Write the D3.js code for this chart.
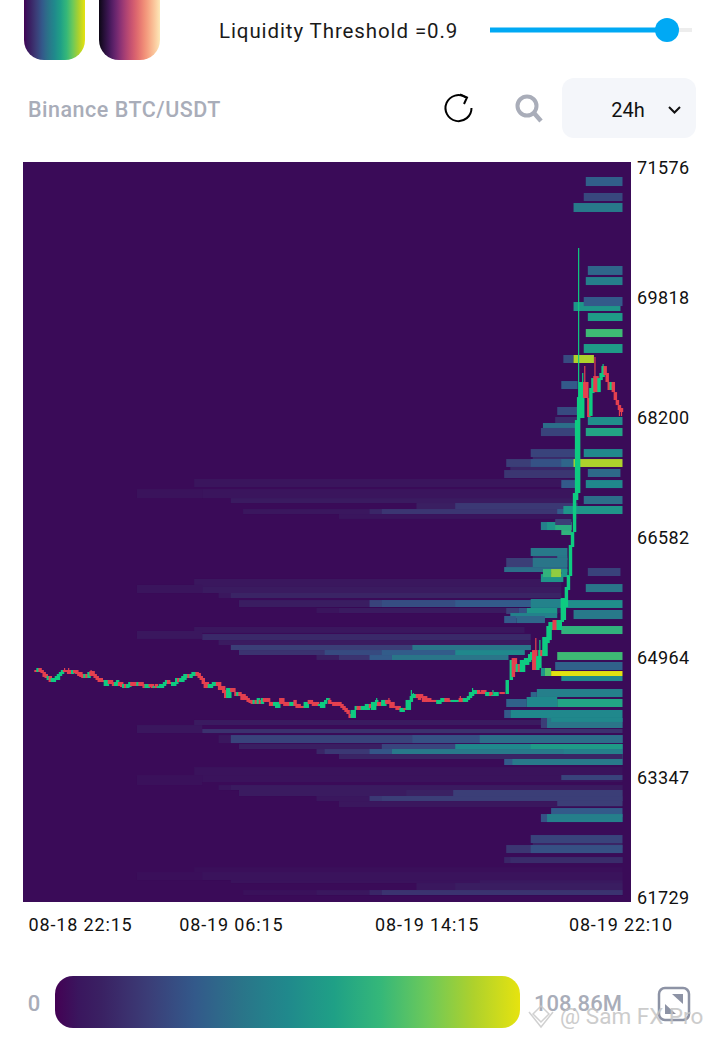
<!DOCTYPE html>
<html>
<head>
<meta charset="utf-8">
<script src="https://cdn.jsdelivr.net/npm/d3@7"></script>
<style>
body { margin: 0; background: #fff; }
svg { display: block; }
text { font-family: Roboto, sans-serif; }
</style>
</head>
<body>
<svg id="chart" width="718" height="1039"></svg>
<script>
// 5 minute candles, 08-18 22:15 to 08-19 22:10
const opens = [
64789,64762,64816,64789,64762,64735,64654,64708,64627,64627,64654,64654,64708,64735,64789,64789,64789,64789,64735,64789,
64789,64762,64762,64735,64681,64735,64681,64775,64775,64735,64708,64681,64681,64654,64573,64573,64654,64654,64627,64573,
64573,64627,64627,64546,64600,64546,64560,64627,64627,64627,64573,64627,64627,64600,64546,64546,64600,64600,64546,64600,
64546,64546,64546,64573,64600,64654,64627,64573,64573,64600,64681,64627,64627,64654,64681,64735,64681,64708,64708,64762,
64748,64708,64681,64627,64627,64546,64546,64573,64573,64627,64627,64573,64573,64519,64411,64411,64546,64546,64492,64438,
64492,64465,64465,64438,64411,64385,64385,64331,64385,64331,64385,64331,64411,64411,64411,64358,64358,64304,64277,64277,
64411,64411,64358,64358,64358,64304,64304,64385,64331,64331,64304,64304,64277,64277,64385,64385,64358,64358,64358,64304,
64277,64277,64331,64385,64385,64358,64358,64358,64358,64358,64331,64304,64277,64250,64196,64142,64142,64250,64304,64304,
64250,64250,64250,64250,64331,64250,64250,64304,64358,64358,64304,64304,64385,64385,64358,64358,64304,64304,64304,64223,
64223,64277,64250,64250,64358,64411,64411,64465,64465,64465,64438,64438,64411,64411,64385,64385,64385,64331,64331,64358,
64358,64411,64411,64385,64358,64358,64358,64358,64411,64411,64358,64358,64385,64411,64438,64465,64465,64519,64492,64519,
64519,64438,64438,64492,64438,64438,64438,64492,64492,64492,64465,64465,64654,64654,64950,64950,64762,64870,64762,64762,
64857,64857,64897,64924,65058,65058,64789,64816,65058,64977,64977,65152,65193,65328,65463,65463,65328,65328,65436,65463,
65638,65867,66056,66447,66649,67081,67175,68186,68186,68672,68672,68456,68213,68523,68752,68752,68536,68698,68739,68887,
68793,68672,68564,68672,68536,68429,68361,68321
]
const closes = [
64762,64816,64762,64748,64695,64681,64708,64627,64681,64681,64708,64735,64762,64789,64762,64762,64735,64735,64789,64748,
64735,64708,64695,64681,64735,64681,64762,64708,64708,64681,64654,64627,64627,64627,64654,64654,64600,64600,64573,64627,
64654,64573,64560,64600,64546,64600,64627,64573,64573,64573,64627,64573,64573,64546,64600,64600,64560,64546,64573,64546,
64573,64600,64600,64627,64654,64600,64600,64627,64627,64681,64627,64681,64708,64735,64735,64681,64735,64762,64762,64708,
64681,64654,64600,64546,64546,64600,64600,64627,64627,64573,64519,64519,64478,64411,64546,64546,64492,64492,64438,64492,
64438,64385,64385,64385,64358,64344,64331,64385,64331,64411,64331,64411,64358,64358,64358,64304,64304,64358,64358,64358,
64331,64331,64304,64304,64304,64358,64358,64304,64277,64277,64277,64277,64358,64358,64331,64331,64304,64304,64304,64331,
64358,64358,64385,64411,64331,64331,64304,64304,64304,64304,64277,64250,64223,64196,64142,64250,64250,64304,64250,64250,
64304,64304,64331,64331,64277,64358,64358,64385,64304,64304,64385,64385,64331,64331,64277,64277,64277,64250,64250,64277,
64277,64250,64385,64385,64438,64465,64465,64411,64385,64411,64358,64358,64358,64358,64358,64358,64358,64385,64385,64411,
64411,64358,64358,64358,64385,64385,64385,64385,64358,64358,64411,64411,64438,64492,64492,64519,64519,64465,64465,64465,
64465,64492,64492,64438,64452,64492,64492,64492,64465,64465,64465,64654,64654,64924,64695,64762,64870,64762,64924,64924,
64950,64950,65004,65031,64789,64789,64977,65058,64977,65234,65234,65382,65436,65436,65328,65328,65463,65463,65759,65759,
65908,66069,66474,66649,67175,68159,68469,68672,68672,68456,68456,68200,68591,68725,68536,68536,68725,68793,68887,68766,
68672,68564,68672,68536,68429,68361,68294,68267
]

// thin wicks that stick out of the bodies
const wickIndex = [14,16,27,144,167,173,184,185,208,214,224,245,247,266,268,269,274,278,286,287]
const wickHigh = [64816,64816,64789,64411,64411,64411,64519,64478,64438,64546,64519,65220,65193,70478,68793,68887,69009,68914,68361,68321]
const wickLow = [64762,64735,64708,64358,64304,64331,64358,64411,64358,64438,64438,64789,64816,67175,68186,68456,68536,68739,68213,68213]

// liquidity levels: [high, low, first candle, last candle, size in M]
const topLadder = [
[71436,71314,270,288,35],[71220,71112,269,288,26],[71085,70964,264,288,46],[70236,70115,271,288,38],
[70087,69979,270,288,49],[69750,69629,264,287,60],[69818,69696,269,288,33],[69602,69494,271,288,63],
[69386,69278,270,288,78],[69184,69063,269,288,63],[69036,68928,259,264,27],[69036,68928,264,274,98],
[68685,68577,258,266,33],[68335,68227,256,266,27],[68200,68092,271,288,57],[68052,67943,270,288,67]
]
const upperBook = [
[68200,68092,255,266,16],[68119,68011,249,266,41],[68052,67943,248,266,24],[67768,67660,243,266,24],
[67660,67593,244,266,16],[67768,67660,269,288,54],[67633,67526,231,266,22],[67633,67526,243,266,30],
[67633,67526,258,266,38],[67633,67526,264,288,98],[67526,67472,233,266,13],[67485,67377,230,266,19],
[67499,67391,271,287,39],[67350,67242,258,266,33],[67350,67242,270,288,54],[67135,67027,269,288,41]
]
const upperTail = [
[67364,67255,78,266,5],[67229,67107,50,82,4],[67229,67107,82,266,5],[67107,67040,96,266,8],
[67040,66959,187,266,10],[67040,66959,206,266,20],[66959,66892,102,266,6],[66959,66892,164,266,13],
[66959,66892,170,266,19],[66892,66825,149,266,5],[66959,66892,256,266,33],[67000,66892,259,288,60],
[66784,66676,248,263,49],[66784,66676,251,263,60],[66784,66676,255,263,71],[66825,66744,255,263,22],
[66676,66609,258,263,74]
]
const middleTail = [
[66016,65908,78,258,6],[65935,65827,50,82,5],[65908,65827,82,258,8],[65827,65759,90,258,6],
[65827,65759,96,258,12],[65732,65638,100,258,9],[65732,65638,164,258,24],[65732,65638,170,258,28],
[65732,65638,206,258,33],[65746,65625,243,258,51],[65625,65557,138,258,5],[65625,65557,149,258,8],
[65625,65544,231,237,22],[65625,65544,237,241,30],[65625,65544,241,256,60],[65557,65490,233,256,51],
[65517,65422,230,236,33],[65517,65422,236,250,38]
]
const middleBook = [
[66434,66326,243,261,46],[66326,66272,244,261,16],[66326,66272,256,261,44],[66299,66177,231,261,22],
[66299,66177,244,261,44],[66177,66110,230,261,41],[66082,65975,248,259,60],[66150,66042,249,253,74],
[66150,66042,253,258,93],[66150,66042,258,261,60],[66164,66056,271,287,24],[65948,65840,270,288,44],
[65732,65625,260,288,57],[65598,65476,264,288,46],[65382,65274,258,288,74],[65031,64924,256,288,78],
[64897,64789,255,288,36],[64816,64708,248,250,60],[64816,64708,250,253,82],[64775,64708,253,288,108],
[64708,64640,258,288,54]
]
const lowerTail = [
[65369,65288,78,240,6],[65315,65207,50,82,6],[65274,65193,82,243,14],[65193,65126,90,243,8],
[65126,65058,96,243,22],[65126,65058,185,243,44],[65126,65058,218,243,44],[65058,64991,100,240,18],
[65058,64991,142,240,27],[65058,64991,170,240,34],[65058,64991,206,240,54],[64991,64924,138,232,10],
[64991,64924,149,232,18],[64991,64924,164,232,33],[64991,64924,175,232,44]
]
const lowerBook = [
[64533,64425,246,288,49],[64492,64425,243,246,38],[64398,64290,231,241,36],[64425,64290,241,256,54],
[64398,64290,256,288,67],[64115,64047,78,288,8],[64142,64007,248,288,22],[64142,64007,251,288,44],
[64250,64142,230,233,33],[64250,64142,233,288,54],[64142,64088,253,288,54],[64047,63939,50,82,6],
[63993,63939,82,288,17],[63912,63804,90,288,6],[63912,63804,96,288,24],[63912,63804,185,288,29],
[63912,63804,218,288,41],[63791,63723,100,288,10],[63791,63723,170,288,25],[63791,63723,206,288,54],
[63791,63723,243,288,63],[63723,63656,138,288,13],[63723,63656,142,288,20],[63723,63656,164,288,31],
[63723,63656,175,288,46],[63723,63589,259,288,49],[63656,63589,149,288,12],[63589,63508,230,288,33],
[63589,63508,234,288,46]
]
const bottomBook = [
[63481,63373,78,288,4],[63373,63238,50,82,3],[63373,63278,82,288,4],[63373,63305,258,288,24],
[63238,63171,90,288,5],[63238,63171,96,288,8],[63171,63090,100,288,8],[63171,63090,182,288,11],
[63171,63090,205,288,22],[63090,63022,138,288,6],[63090,63022,164,288,20],[63090,63022,170,288,22],
[63022,62941,149,288,6],[63036,62955,256,288,22],[62928,62806,253,288,33],[62847,62739,248,288,30],
[62847,62739,251,288,49],[62564,62456,243,288,24],[62456,62389,244,288,13],[62429,62321,231,288,19],
[62429,62321,243,288,29],[62267,62186,230,288,13],[62267,62186,233,288,15],[62132,62065,78,288,2],
[62065,61957,50,288,2],[62065,61957,82,288,4],[61957,61917,96,288,4],[61957,61917,218,288,7],
[61917,61822,187,288,6],[61917,61822,206,288,9],[61822,61755,102,288,3],[61822,61755,138,288,6],
[61822,61755,164,288,13],[61822,61755,170,288,18]
]

const priceTicks = [71576,69818,68200,66582,64964,63347,61729]
const timeTicks = [0,96,192,287]
const timeLabels = ['08-18 22:15','08-19 06:15','08-19 14:15','08-19 22:10']
const maxLiquidity = 108.86

const svg = d3.select('#chart')

let xScale = d3.scaleLinear().domain([0,288]).range([35,622.5])
let yScale = d3.scaleLinear().domain([71638,61661]).range([162,902])

let heatColor = d3.scaleLinear()
    .domain([0,.1,.2,.3,.4,.5,.6,.7,.8,.9,1].map(d => d*maxLiquidity))
    .range(['#3a0b58','#3a2163','#3b3d77','#33598a','#2a7489','#20898c','#1fa086','#35b779','#6cc95a','#aed12c','#e6e30f'])

const defs = svg.append('defs')

let addGradient = (id, colorFn) => {
    let grad = defs.append('linearGradient').attr('id',id)
    d3.range(0,1.01,.05).forEach(t => {
        grad.append('stop').attr('offset',t).attr('stop-color',colorFn(t))
    })
}
// the legend starts from a stronger purple than the chart background
let legendColor = t => t < .05 ? d3.interpolateRgb('#440154',heatColor(.05*maxLiquidity))(t/.05) : heatColor(t*maxLiquidity)
addGradient('legendGrad', legendColor)
addGradient('swatchA', legendColor)
addGradient('swatchB', d3.interpolateRgbBasis(['#0c0714','#4a1a6e','#a33a78','#e0606a','#f8a07a','#fde8b8']))

let drawHeader = () => {
    svg.append('rect').attr('x',24).attr('y',-20).attr('width',61).attr('height',80).attr('rx',20).attr('fill','url(#swatchA)')
    svg.append('rect').attr('x',99).attr('y',-20).attr('width',61).attr('height',80).attr('rx',20).attr('fill','url(#swatchB)')

    svg.append('text').attr('x',219).attr('y',38).attr('font-size',20.5).attr('letter-spacing',.9).attr('fill','#1a1a1a').text('Liquidity Threshold =0.9')

    svg.append('rect').attr('x',490).attr('y',28).attr('width',202).attr('height',4).attr('fill','#ededed')
    svg.append('rect').attr('x',490).attr('y',27.5).attr('width',177).attr('height',5).attr('fill','#00a9f4')
    svg.append('circle').attr('cx',667).attr('cy',30).attr('r',12).attr('fill','#00a9f4')

    svg.append('text').attr('x',28).attr('y',117).attr('font-size',21.5).attr('font-weight',500).attr('letter-spacing',.5).attr('fill','#a9adb9').text('Binance BTC/USDT')

    // refresh icon
    svg.append('path').attr('d','M466 97.5 A13 13 0 1 0 471.5 108').attr('fill','none').attr('stroke','#000').attr('stroke-width',2)
    svg.append('path').attr('d','M460 94.5 L467 97.5 L464 104').attr('fill','none').attr('stroke','#000').attr('stroke-width',2)

    // search icon
    svg.append('circle').attr('cx',527).attr('cy',106).attr('r',9.5).attr('fill','none').attr('stroke','#a9adb9').attr('stroke-width',4)
    svg.append('line').attr('x1',534).attr('y1',113).attr('x2',541).attr('y2',121).attr('stroke','#a9adb9').attr('stroke-width',4.5)

    svg.append('rect').attr('x',562).attr('y',78).attr('width',134).attr('height',60).attr('rx',12).attr('fill','#f4f6fa')
    svg.append('text').attr('x',628).attr('y',117).attr('text-anchor','middle').attr('font-size',20).attr('fill','#111').text('24h')
    svg.append('path').attr('d','M669 107 L674.5 112.5 L680 107').attr('fill','none').attr('stroke','#111').attr('stroke-width',2)
}

let drawHeat = () => {
    svg.append('rect').attr('x',23).attr('y',162).attr('width',608).attr('height',740).attr('fill',heatColor(0))

    const rows = [...upperTail,...middleTail,...lowerTail,...bottomBook,...lowerBook,...middleBook,...upperBook,...topLadder]

    svg.append('g').selectAll('rect')
       .data(rows)
       .enter()
       .append('rect')
       .attr('x', d => xScale(d[2]))
       .attr('y', d => yScale(d[0]))
       .attr('width', d => xScale(d[3])-xScale(d[2]))
       .attr('height', d => yScale(d[1])-yScale(d[0]))
       .attr('fill', d => heatColor(d[4]))
}

let drawCandles = () => {
    const up = '#0ecb81'
    const down = '#e5404f'
    const step = xScale(1)-xScale(0)
    const candleW = step+1.4

    svg.append('g').selectAll('line')
       .data(wickIndex)
       .enter()
       .append('line')
       .attr('x1', d => xScale(d)+step/2)
       .attr('x2', d => xScale(d)+step/2)
       .attr('y1', (d,i) => yScale(wickHigh[i]))
       .attr('y2', (d,i) => yScale(wickLow[i]))
       .attr('stroke-width',1.2)
       .attr('stroke', d => closes[d] >= opens[d] ? up : down)

    svg.append('g').selectAll('rect')
       .data(opens)
       .enter()
       .append('rect')
       .attr('x', (d,i) => xScale(i)-.7)
       .attr('y', (d,i) => yScale(Math.max(d,closes[i])))
       .attr('width', candleW)
       .attr('height', (d,i) => Math.abs(yScale(d)-yScale(closes[i])))
       .attr('fill', (d,i) => closes[i] >= d ? up : down)
}

let drawAxes = () => {
    let yAxis = d3.axisRight(yScale).tickValues(priceTicks).tickSize(0).tickPadding(6).tickFormat(d3.format('d'))
    let xAxis = d3.axisBottom(xScale).tickValues(timeTicks).tickSize(0).tickPadding(16).tickFormat((d,i) => timeLabels[i])

    let gy = svg.append('g').attr('transform','translate(631,1)').call(yAxis)
    let gx = svg.append('g').attr('transform','translate(0,902)').call(xAxis)

    gy.select('.domain').remove()
    gx.select('.domain').remove()
    svg.selectAll('.tick text').attr('font-family','Roboto, sans-serif').attr('font-size',18).attr('fill','#111')
    gx.selectAll('.tick text').attr('letter-spacing',.85)
    gx.selectAll('.tick text').filter((d,i) => i==0).attr('text-anchor','start').attr('x',-7)
    gy.selectAll('.tick text').attr('letter-spacing',.4)
}

let drawLegend = () => {
    svg.append('text').attr('x',34).attr('y',1011).attr('text-anchor','middle').attr('font-size',22).attr('font-weight',500).attr('fill','#a9adb9').text('0')
    svg.append('rect').attr('x',55).attr('y',976).attr('width',465).attr('height',52).attr('rx',18).attr('fill','url(#legendGrad)')
    svg.append('text').attr('x',534).attr('y',1011).attr('font-size',22).attr('font-weight',500).attr('fill','#a9adb9').text(maxLiquidity+'M')

    // expand icon
    svg.append('rect').attr('x',659).attr('y',988).attr('width',30).attr('height',32).attr('rx',6).attr('fill','none').attr('stroke','#8d93a5').attr('stroke-width',2.5)
    svg.append('path').attr('d','M672 994 L683 994 L683 1004 Z').attr('fill','#8d93a5')
    svg.append('path').attr('d','M665 1004 L676 1014 L665 1014 Z').attr('fill','#8d93a5')

    // watermark
    let mark = svg.append('g').attr('fill','none').attr('stroke','#c9c9c9').attr('stroke-width',1.5).attr('opacity',.85)
    mark.append('path').attr('d','M541 1006 L549 1014 L541 1022 L533 1014 Z')
    mark.append('path').attr('d','M529 1012 L541 1027 L553 1012')
    svg.append('text').attr('x',560).attr('y',1024).attr('font-size',22.5).attr('fill','#c4c4c4').attr('opacity',.85).text('@ Sam FX Pro')
}

drawHeader()
drawHeat()
drawCandles()
drawAxes()
drawLegend()
</script>
</body>
</html>
